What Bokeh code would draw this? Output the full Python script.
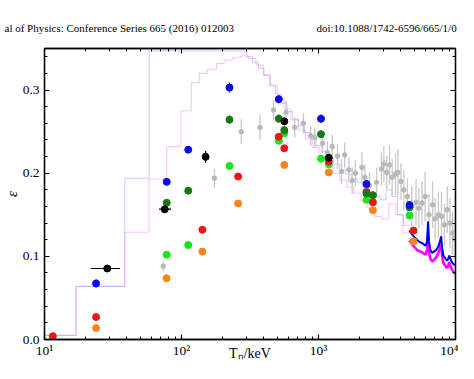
import numpy as np
from bokeh.plotting import figure
from bokeh.models import (Range1d, LogAxis, LinearAxis, FixedTicker, SingleIntervalTicker,
                          PrintfTickFormatter, CustomJSTickFormatter)
from bokeh.embed import file_html
from bokeh.resources import INLINE

# ---------------- data (T_n in keV, epsilon) ----------------
blue_E = [23.8, 78, 112, 224, 513, 1043, 2240, 4620]
blue_eps = [0.0674, 0.1896, 0.2283, 0.303, 0.289, 0.2656, 0.187, 0.1618]
blue_err = [0.005, 0.004, 0.004, 0.006, 0.005, 0.005, 0.004, 0.004]

dkgreen_E = [78, 112, 224, 513, 563, 1043, 2240, 2496, 4620]
dkgreen_eps = [0.1645, 0.179, 0.2644, 0.2656, 0.2518, 0.247, 0.1755, 0.1735, 0.159]
dkgreen_err = [0.004, 0.004, 0.005, 0.005, 0.005, 0.004, 0.004, 0.004, 0.004]

lime_E = [78, 112, 224, 513, 563, 1043, 1189, 2240, 4620]
lime_eps = [0.102, 0.1136, 0.2088, 0.239, 0.248, 0.2174, 0.2107, 0.168, 0.149]

red_E = [11.5, 23.8, 142, 259, 513, 563, 1189, 2240, 2496, 4940]
red_eps = [0.004, 0.027, 0.132, 0.196, 0.244, 0.230, 0.214, 0.1775, 0.165, 0.131]

orange_E = [23.8, 77.8, 142, 259, 563, 1189, 2496, 4940]
orange_eps = [0.0137, 0.0737, 0.1058, 0.1637, 0.210, 0.201, 0.1555, 0.118]

black_E = [28.7, 75.5, 150, 563, 1189]
black_eps = [0.0854, 0.1567, 0.2197, 0.2624, 0.2186]
black_err = [0.002, 0.003, 0.007, 0.004, 0.004]
black_E_lo = [21.8, 68.5, 145, 555, 1175]
black_E_hi = [35.6, 84.0, 155, 571, 1203]

grey_E = [73.6, 174, 273, 374, 470, 580, 671, 776, 877, 940, 1071, 1160, 1260, 1377, 1473,
          1553, 1667, 1762, 1862, 2075, 2180, 2350, 2655, 2878, 3000, 3150, 3300, 3450, 3650,
          3800, 4000, 4200, 4450, 4800, 5150, 5400, 5700, 6000, 6400, 6800, 7100, 7500, 7900,
          8300, 8700, 9100, 9500, 9800]
grey_eps = [0.088, 0.194, 0.250, 0.255, 0.276, 0.273, 0.255, 0.260, 0.245, 0.243, 0.236, 0.225,
            0.232, 0.2205, 0.202, 0.222, 0.204, 0.191, 0.200, 0.207, 0.195, 0.185, 0.189, 0.205,
            0.211, 0.201, 0.210, 0.195, 0.199, 0.201, 0.190, 0.180, 0.172, 0.160, 0.165, 0.158,
            0.164, 0.172, 0.150, 0.162, 0.145, 0.150, 0.148, 0.138, 0.156, 0.140, 0.128, 0.121]
grey_err = [0.006, 0.012, 0.015, 0.015, 0.012, 0.014, 0.012, 0.012, 0.012, 0.012, 0.012, 0.013,
            0.014, 0.015, 0.015, 0.015, 0.015, 0.016, 0.016, 0.018, 0.016, 0.016, 0.018, 0.020,
            0.022, 0.020, 0.024, 0.022, 0.025, 0.028, 0.022, 0.024, 0.022, 0.025, 0.028, 0.024,
            0.026, 0.030, 0.025, 0.028, 0.025, 0.028, 0.030, 0.025, 0.028, 0.030, 0.026, 0.024]

# simulated efficiency histograms (light, low energy part)
sim_blue_edges = [10, 17, 38.6, 58, 300, 330, 365, 400, 440, 485, 535, 590, 650, 715, 790, 870,
                  960, 1060, 1170, 1290, 1420, 1570, 1730, 1910, 2100, 2320, 2560, 2820, 3110,
                  3430, 3780, 4170, 4600]
sim_blue_vals = [0.005, 0.064, 0.194, 0.347, 0.340, 0.333, 0.326, 0.318, 0.306, 0.295, 0.284,
                 0.274, 0.265, 0.257, 0.249, 0.241, 0.233, 0.226, 0.218, 0.211, 0.204, 0.199,
                 0.193, 0.189, 0.184, 0.178, 0.172, 0.168, 0.180, 0.172, 0.150, 0.137]
sim_pink_edges = [10, 17, 38.6, 58, 78, 99, 118, 135, 155, 180, 205, 235, 270, 310, 350, 395,
                  445, 500, 560, 630, 710, 800, 900, 1010, 1130, 1270, 1430, 1610, 1810, 2040,
                  2290, 2580, 2900, 3260, 3670, 4130, 4600]
sim_pink_vals = [0.005, 0.064, 0.129, 0.193, 0.232, 0.275, 0.309, 0.320, 0.325, 0.332, 0.336,
                 0.339, 0.341, 0.338, 0.330, 0.318, 0.305, 0.290, 0.277, 0.264, 0.252, 0.241,
                 0.231, 0.220, 0.210, 0.200, 0.192, 0.183, 0.176, 0.167, 0.158, 0.148, 0.145,
                 0.163, 0.150, 0.128]

# simulated efficiency (dense, high energy part)
hi_E = [4600, 4750, 4900, 5100, 5300, 5500, 5700, 5900, 6050, 6200, 6300, 6400, 6550, 6750,
        7000, 7250, 7500, 7700, 7850, 7950, 8150, 8400, 8650, 8850, 9000, 9150, 9350, 9600,
        9800, 10000]
hi_blue = [0.131, 0.128, 0.125, 0.122, 0.119, 0.117, 0.116, 0.114, 0.113, 0.118, 0.142, 0.118,
           0.108, 0.104, 0.106, 0.108, 0.112, 0.118, 0.124, 0.113, 0.101, 0.098, 0.095, 0.097,
           0.101, 0.098, 0.094, 0.091, 0.090, 0.089]
hi_magenta = [0.119, 0.116, 0.113, 0.110, 0.107, 0.106, 0.105, 0.103, 0.102, 0.108, 0.127,
              0.106, 0.097, 0.094, 0.096, 0.099, 0.104, 0.110, 0.114, 0.104, 0.092, 0.089,
              0.086, 0.088, 0.093, 0.089, 0.085, 0.082, 0.080, 0.079]

x_ticks = [10, 100, 1000, 10000]
x_tick_labels = ["10¹", "10²", "10³", "10⁴"]

header_left = "al of Physics: Conference Series 665 (2016) 012003"
header_right = "doi:10.1088/1742-6596/665/1/0"
x_title = "Tₙ/keV"
y_title = "ε"

# ---------------- layout ----------------
W, H = 458, 363
FONT = "Liberation Serif"

p = figure(width=W, height=H, x_axis_type="log", x_range=Range1d(10, 10000),
           y_range=Range1d(0.0, 0.35), output_backend="svg", toolbar_location=None,
           min_border_left=41, min_border_right=3, min_border_top=48, min_border_bottom=21)
p.grid.visible = False
p.outline_line_color = "black"
p.outline_line_width = 1.3

p.title.text = header_left + "\u00a0" * 30 + header_right
p.title.align = "left"
p.title.offset = -40
p.title.standoff = 30
p.title.text_font = FONT
p.title.text_font_size = "11px"
p.title.text_font_style = "normal"
p.title.text_color = "black"

minor_x = [m * 10 ** d for d in (1, 2, 3) for m in range(2, 10)]
xt = FixedTicker(ticks=x_ticks, minor_ticks=minor_x)
yt = SingleIntervalTicker(interval=0.1, num_minor_ticks=5)

xa = p.xaxis[0]
xa.ticker = xt
xa.major_label_overrides = {t: s for t, s in zip(x_ticks, x_tick_labels)}
ya = p.yaxis[0]
ya.ticker = yt
ya.formatter = PrintfTickFormatter(format="%.1f")

for ax in (xa, ya):
    ax.axis_line_width = 1.3
    ax.major_tick_in = 5
    ax.major_tick_out = 0
    ax.minor_tick_in = 3
    ax.minor_tick_out = 0
    ax.major_tick_line_width = 1.2
    ax.minor_tick_line_width = 1
    ax.major_label_text_font = FONT
    ax.major_label_text_font_size = "13.5px"
    ax.major_label_text_color = "black"
    ax.axis_label_text_font = FONT
    ax.axis_label_text_color = "black"

xa.major_label_standoff = 3
xa.axis_label = x_title
xa.axis_label_text_font_size = "14px"
xa.axis_label_text_font_style = "normal"
xa.axis_label_standoff = -15

ya.major_label_standoff = 5
ya.axis_label = y_title
ya.axis_label_text_font_size = "15px"
ya.axis_label_text_font_style = "italic"
ya.axis_label_standoff = 0

blank = CustomJSTickFormatter(code="return ''")
top = LogAxis(ticker=xt, formatter=blank, major_label_standoff=0, major_label_text_font_size="0px",
              major_tick_in=5, major_tick_out=0, minor_tick_in=3, minor_tick_out=0,
              axis_line_width=1.3)
right = LinearAxis(ticker=yt, formatter=blank, major_label_standoff=0,
                   major_label_text_font_size="0px", major_tick_in=5, major_tick_out=0,
                   minor_tick_in=3, minor_tick_out=0, axis_line_width=1.3)
p.add_layout(top, "above")
p.add_layout(right, "right")

# ---------------- simulated curves ----------------
p.step(sim_pink_edges, sim_pink_vals + [sim_pink_vals[-1]], mode="after",
       line_color="#ff55ff", line_alpha=0.38, line_width=1)
p.step(sim_blue_edges, sim_blue_vals + [sim_blue_vals[-1]], mode="after",
       line_color="#7777ff", line_alpha=0.38, line_width=1)

# ---------------- grey data ----------------
gE = np.array(grey_E)
ge = np.array(grey_eps)
gr = np.array(grey_err)
p.segment(gE, ge - gr, gE, ge + gr, line_color="#c8c8c8", line_width=1.3)
p.scatter(gE, ge, size=4.5, fill_color="#b8b8b8", line_color="#b8b8b8")

p.line(hi_E, hi_magenta, line_color="#ff00ff", line_width=2.6)
p.line(hi_E, hi_blue, line_color="#0000e6", line_width=2)


def pts(E, eps, color, err=None):
    if err is not None:
        e = np.array(eps)
        r = np.array(err)
        p.segment(E, e - r, E, e + r, line_color=color, line_width=1.2)
    p.scatter(E, eps, size=7, fill_color=color, line_color=color)


pts(lime_E, lime_eps, "#19e619")
pts(orange_E, orange_eps, "#f7851e")
pts(red_E, red_eps, "#f01414")
pts(dkgreen_E, dkgreen_eps, "#137a13", dkgreen_err)
pts(blue_E, blue_eps, "#0a0ae6", blue_err)
p.segment(black_E_lo, black_eps, black_E_hi, black_eps, line_color="black", line_width=1.2)
pts(black_E, black_eps, "black", black_err)

open("out.html", "w").write(file_html(p, INLINE))
